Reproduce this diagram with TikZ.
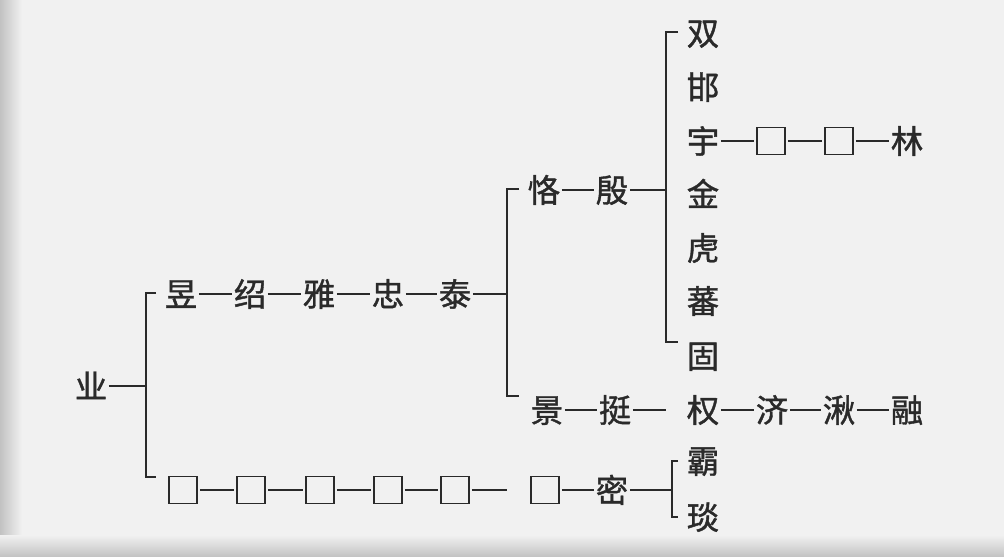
\documentclass[tikz,border=0pt]{standalone}
\usepackage{fontspec}
\newfontfamily\hanzi[FakeBold=1.2]{Noto Sans CJK SC}
\definecolor{fondo}{HTML}{F1F1F1}
\definecolor{borde}{HTML}{C2C2C2}
\definecolor{tinta}{HTML}{2A2A2A}

\tikzset{nom/.style={font=\hanzi\fontsize{23}{23}\selectfont, text=tinta, inner xsep=1pt, inner ysep=0pt, text height=18.9pt, text depth=1.4pt},
  kong/.style={draw=tinta, line width=1.2pt, minimum width=0.7cm, minimum height=0.68cm, inner sep=0pt, outer sep=2pt},
  lig/.style={draw=tinta, line width=1.5pt},
  corch/.style={draw=tinta, line width=2pt}}

\begin{document}
\begin{tikzpicture}[x=0.025cm, y=-0.025cm]
  \fill[fondo] (0,0) rectangle (1004,557);
  \shade[left color=borde, right color=fondo] (0,0) rectangle (22,557);
  \shade[top color=fondo, bottom color=borde] (0,535) rectangle (1004,557);
  \useasboundingbox (0,0) rectangle (1004,557);

  \node[nom] (ye) at (91,386) {业};
  \coordinate (b1t) at (146,293); \coordinate (b1b) at (146,477);
  \draw[corch] (b1t) ++(10,0) -- (b1t) -- (b1b) -- ++(10,0);
  \draw[lig] (ye) -- (ye -| b1t);

  \node[nom] (yu)    at (181,294) {昱};
  \node[nom] (shao)  at (250,294) {绍};
  \node[nom] (ya)    at (319,294) {雅};
  \node[nom] (zhong) at (388,294) {忠};
  \node[nom] (tai)   at (455,294) {泰};
  \draw[lig] (yu) -- (shao);  \draw[lig] (shao) -- (ya);  \draw[lig] (ya) -- (zhong);  \draw[lig] (zhong) -- (tai);
  \coordinate (b2t) at (507,189); \coordinate (b2b) at (507,396);
  \draw[corch] (b2t) ++(12,0) -- (b2t) -- (b2b) -- ++(12,0);
  \draw[lig] (tai) -- (tai -| b2t);

  \node[nom] (ke)  at (544,190) {恪};
  \node[nom] (yin) at (612,190) {殷};
  \draw[lig] (ke) -- (yin);
  \coordinate (b3t) at (666,32); \coordinate (b3b) at (666,342);
  \draw[corch] (b3t) ++(12,0) -- (b3t) -- (b3b) -- ++(12,0);
  \draw[lig] (yin) -- (yin -| b3t);

  \node[nom] (shuang) at (703,33)  {双};
  \node[nom] (han)    at (703,87)  {邯};
  \node[nom] (yuu)    at (703,141) {宇};
  \node[nom] (jin)    at (703,194) {金};
  \node[nom] (hu)     at (703,248) {虎};
  \node[nom] (fan)    at (703,301) {蕃};
  \node[nom] (gu)     at (703,356) {固};
  \node[kong] (ka) at (771,141) {};
  \node[kong] (kb) at (839,141) {};
  \node[nom] (lin) at (907,141) {林};
  \draw[lig] (yuu) -- (ka);  \draw[lig] (ka) -- (kb);  \draw[lig] (kb) -- (lin);

  \node[nom] (jing) at (547,410) {景};
  \node[nom] (ting) at (615,410) {挺};
  \draw[lig] (jing) -- (ting);
  \draw[lig] (ting) -- (ting -| b3t);
  \node[nom] (quan) at (703,410) {权};
  \node[nom] (ji)   at (772,410) {济};
  \node[nom] (qiu)  at (839,410) {湫};
  \node[nom] (rong) at (907,410) {融};
  \draw[lig] (quan) -- (ji);  \draw[lig] (ji) -- (qiu);  \draw[lig] (qiu) -- (rong);

  \node[kong] (k1) at (183,490) {};
  \node[kong] (k2) at (251,490) {};
  \node[kong] (k3) at (320,490) {};
  \node[kong] (k4) at (388,490) {};
  \node[kong] (k5) at (455,490) {};
  \coordinate (kf) at (507,490);
  \draw[lig] (k1) -- (k2);  \draw[lig] (k2) -- (k3);  \draw[lig] (k3) -- (k4);  \draw[lig] (k4) -- (k5);  \draw[lig] (k5) -- (kf);
  \node[kong] (k6) at (545,490) {};
  \node[nom] (mi) at (612,490) {密};
  \draw[lig] (k6) -- (mi);
  \coordinate (b4t) at (672,461); \coordinate (b4b) at (672,517);
  \draw[corch] (b4t) ++(6,0) -- (b4t) -- (b4b) -- ++(6,0);
  \draw[lig] (mi) -- (mi -| b4t);
  \node[nom] (ba)  at (703,461) {霸};
  \node[nom] (yan) at (703,517) {琰};
\end{tikzpicture}
\end{document}
